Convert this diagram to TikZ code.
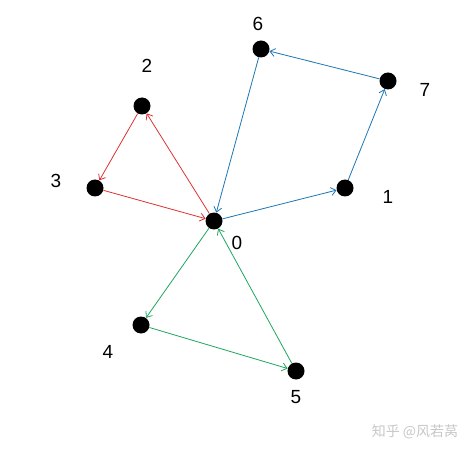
\documentclass[tikz,border=0pt]{standalone}
\usepackage{fontspec}
\setmainfont{Liberation Sans}
\newfontfamily\cjk{Noto Sans CJK SC}
\usetikzlibrary{arrows.meta}

\definecolor{edgered}{RGB}{222,50,50}
\definecolor{edgeblue}{RGB}{28,118,180}
\definecolor{edgegreen}{RGB}{30,165,95}

\tikzset{
	vertex/.style = {circle, fill = black, inner sep = 0pt, minimum size = 17pt},
	vlabel/.style = {font = \fontsize{19}{21}\selectfont},
	arc/.style = {line width = 0.8pt, ->}
}

\begin{document}
\begin{tikzpicture}[x = 1pt, y = -1pt, >={Straight Barb[length = 5pt, width = 8pt]}]
	\useasboundingbox (0, 0) rectangle (473, 454);
	
	\node[vertex] (v0) at (214, 221) {};
	\node[vertex] (v1) at (345, 188) {};
	\node[vertex] (v2) at (142, 106) {};
	\node[vertex] (v3) at (95, 188) {};
	\node[vertex] (v4) at (141, 325) {};
	\node[vertex] (v5) at (296, 371) {};
	\node[vertex] (v6) at (261, 49) {};
	\node[vertex] (v7) at (388, 81) {};
	
	\node[vlabel] (l0) at (237, 243) {0};
	\node[vlabel] (l1) at (388, 197) {1};
	\node[vlabel] (l2) at (147, 66) {2};
	\node[vlabel] (l3) at (56, 181) {3};
	\node[vlabel] (l4) at (108, 352) {4};
	\node[vlabel] (l5) at (296, 397) {5};
	\node[vlabel] (l6) at (258, 24) {6};
	\node[vlabel] (l7) at (425, 90) {7};
	
	\draw[arc, edgeblue] (v0) -- (v1);
	\draw[arc, edgeblue] (v1) -- (v7);
	\draw[arc, edgeblue] (v7) -- (v6);
	\draw[arc, edgeblue] (v6) -- (v0);
	
	\draw[arc, edgered] (v0) -- (v2);
	\draw[arc, edgered] (v2) -- (v3);
	\draw[arc, edgered] (v3) -- (v0);
	
	\draw[arc, edgegreen] (v0) -- (v4);
	\draw[arc, edgegreen] (v4) -- (v5);
	\draw[arc, edgegreen] (v5) -- (v0);
	
	\node[text = black!22, font = \cjk\fontsize{14}{16}\selectfont] (mark) at (415, 432) {知乎 @风若莴};
\end{tikzpicture}
\end{document}
